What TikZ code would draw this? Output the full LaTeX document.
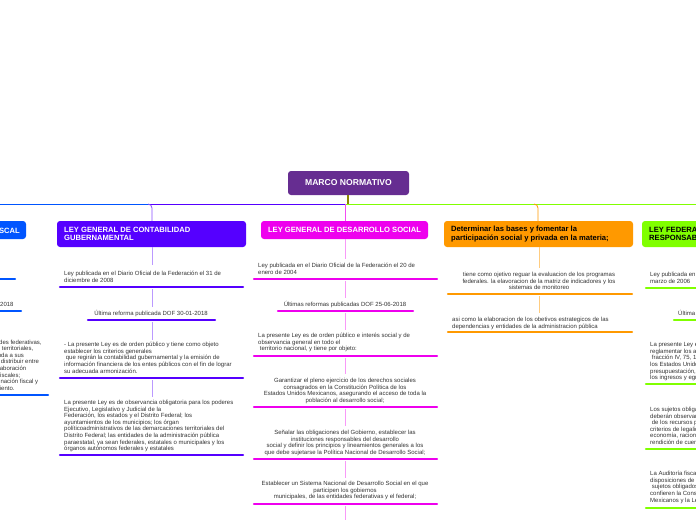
\documentclass[tikz,border=0pt]{standalone}
\usepackage{fontspec}
\setmainfont{Liberation Sans}
\begin{document}
\begin{tikzpicture}[x=1pt,y=-1pt,
  body/.style={font=\fontsize{6.0}{6.6}\selectfont,inner sep=0pt,anchor=north west,align=left,text=black!80},
  bodyc/.style={font=\fontsize{6.0}{6.6}\selectfont,inner sep=0pt,anchor=north,align=center,text=black!80},
  ttl/.style={font=\fontsize{7.6}{8.6}\selectfont\bfseries,align=left,anchor=west,inner sep=0pt},
  box/.style={rounded corners=3pt},
  ul/.style={line width=2.2pt,line cap=round},
  cn/.style={line width=0.8pt}]
\useasboundingbox (0,0) rectangle (696,520);
\clip (0,0) rectangle (696,520);
\definecolor{cpur}{HTML}{5500FF}\definecolor{cmag}{HTML}{EE00EE}
\definecolor{cora}{HTML}{FF9900}\definecolor{cgre}{HTML}{80FF00}
\definecolor{cblu}{HTML}{0055FF}\definecolor{croot}{HTML}{662D91}
% root
\fill[box,croot] (288,171) rectangle (409,195);
\node[font=\fontsize{8.6}{9}\selectfont\bfseries,text=white] (root) at (348.5,183) {MARCO NORMATIVO};
\draw[line width=1.5pt,olive] (348,195) -- (348,204);
\draw[line width=0.9pt,cblu] (0,204) -- (150,204);
\draw[line width=0.9pt,cpur] (150,204) -- (345,204);
\draw[line width=0.9pt,cgre] (345,204) -- (696,204);
\draw[cn,cpur!70] (148,204) to[out=0,in=90] (152,208) -- (152,221);
\draw[cn,cmag!70] (345,204) -- (345,221);
\draw[cn,cora] (534,204) to[out=0,in=90] (538,208) -- (538,221);
% headers
\fill[box,cblu] (-20,221) rectangle (26,239);
\node[ttl,text=white,anchor=east] (hb) at (20,230) {LEY DE COORDINACIÓN FISCAL};
\fill[box,cpur] (57,221) rectangle (246,247);
\node[ttl,text=white] (hp) at (64,234) {LEY GENERAL DE CONTABILIDAD\\GUBERNAMENTAL};
\fill[box,cmag] (261,221) rectangle (428,239);
\node[ttl,text=white,anchor=center] (hm) at (344.5,230) {LEY GENERAL DE DESARROLLO SOCIAL};
\fill[box,cora] (444,221) rectangle (633,247);
\node[ttl,text=black] (ho) at (451,234) {Determinar las bases y fomentar la\\participación social y privada en la materia;};
\fill[box,cgre] (642,221) rectangle (720,247);
\node[ttl,text=black] (hg) at (649,234) {LEY FEDERAL DE PRESUPUESTO Y\\RESPONSABILIDAD HACENDARIA};
% blue column
\node[body] (b1) at (-106,264) {Ley publicada en el Diario Oficial de la\\Federación el 27 de diciembre de 1978};
\draw[ul,cblu] (-5,279) -- (15,279);
\node[body] (b2) at (-100,301) {Última reforma publicada DOF 30-01-2018};
\draw[ul,cblu] (-5,311) -- (21,311);
\node[body] (b3) at (-122,333) {Esta Ley tiene por objeto coordinar el\\sistema fiscal de la Federación con las entidades federativas,\\así como con los municipios y demarcaciones territoriales,\\para establecer la participación que corresponda a sus\\haciendas públicas en los ingresos federales; distribuir entre\\ellos dichas participaciones; fijar reglas de colaboración\\administrativa entre las diversas autoridades fiscales;\\constituir los organismos en materia de coordinación fiscal y\\dar las bases de su organización y funcionamiento.};
\draw[ul,cblu] (-5,395) -- (48,395);
% purple column
\draw[cn,cpur!40] (152,247) -- (152,265) (152,289) -- (152,307) (152,322) -- (152,340) (152,380) -- (152,397);
\node[body] (p1) at (64,271) {Ley publicada en el Diario Oficial de la Federación el 31 de\\diciembre de 2008};
\draw[ul,cpur] (60,287) -- (243,287);
\node[bodyc] (p2) at (151,310) {Última reforma publicada DOF 30-01-2018};
\draw[ul,cpur] (88,320) -- (215,320);
\node[body] (p3) at (64,342) {- La presente Ley es de orden público y tiene como objeto\\establecer los criterios generales\\\ que regirán la contabilidad gubernamental y la emisión de\\información financiera de los entes públicos con el fin de lograr\\su adecuada armonización.};
\draw[ul,cpur] (60,378) -- (243,378);
\node[body] (p4) at (64,400) {La presente Ley es de observancia obligatoria para los poderes\\Ejecutivo, Legislativo y Judicial de la\\Federación, los estados y el Distrito Federal; los\\ayuntamientos de los municipios; los órgan\\políticoadministrativos de las demarcaciones territoriales del\\Distrito Federal; las entidades de la administración pública\\paraestatal, ya sean federales, estatales o municipales y los\\órganos autónomos federales y estatales};
\draw[ul,cpur] (60,455) -- (243,455);
% magenta column
\draw[cn,cmag!40] (345,239) -- (345,259) (345,281) -- (345,298) (345,313) -- (345,330) (345,358) -- (345,374) (345,409) -- (345,426) (345,461) -- (345,478) (345,506) -- (345,520);
\node[body] (m1) at (258,263) {Ley publicada en el Diario Oficial de la Federación el 20 de\\enero de 2004};
\draw[ul,cmag] (254,279) -- (437,279);
\node[bodyc] (m2) at (345,301) {Últimas reformas publicadas DOF 25-06-2018};
\draw[ul,cmag] (278,311) -- (413,311);
\node[body] (m3) at (258,333) {La presente Ley es de orden público e interés social y de\\observancia general en todo el\\\ territorio nacional, y tiene por objeto:};
\draw[ul,cmag] (254,356) -- (437,356);
\node[bodyc] (m4) at (345,378) {Garantizar el pleno ejercicio de los derechos sociales\\consagrados en la Constitución Política de los\\Estados Unidos Mexicanos, asegurando el acceso de toda la\\población al desarrollo social;};
\draw[ul,cmag] (254,407) -- (437,407);
\node[bodyc] (m5) at (345,430) {Señalar las obligaciones del Gobierno, establecer las\\instituciones responsables del desarrollo\\social y definir los principios y lineamientos generales a los\\que debe sujetarse la Política Nacional de Desarrollo Social;};
\draw[ul,cmag] (254,459) -- (437,459);
\node[bodyc] (m6) at (345,481) {Establecer un Sistema Nacional de Desarrollo Social en el que\\participen los gobiernos\\municipales, de las entidades federativas y el federal;};
\draw[ul,cmag] (254,504) -- (437,504);
% orange column
\draw[cn,cora!50] (539,247) -- (539,268) (539,296) -- (539,313);
\node[bodyc] (o1) at (539,272) {tiene como ojetivo reguar la evaluacion de los programas\\federales. la elavoracion de la matriz de indicadores y los\\sistemas de monitoreo};
\draw[ul,cora] (448,294) -- (632,294);
\node[body] (o2) at (452,317) {asi como la elaboracion de los obetivos estrategicos  de  las\\dependencias y entidades de la administracion pública};
\draw[ul,cora] (448,332) -- (632,332);
% green column
\node[body] (g1) at (650,272) {Ley publicada en el Diario Oficial de la Federación el 30 de\\marzo de 2006};
\draw[ul,cgre] (646,288) -- (700,288);
\node[body] (g2) at (678,310) {Última reforma publicada DOF 30-12-2015};
\draw[ul,cgre] (674,320) -- (700,320);
\node[body] (g3) at (650,342) {La presente Ley es de orden público, y tiene por objeto\\reglamentar los artículos 74 fracción IV, 75, 126, 127 y 134\\\ fracción IV, 75, 126, 127 y 134 de la Constitución Política de\\los Estados Unidos Mexicanos en materia de programación,\\presupuestación, aprobación, ejercicio, control y evaluación de\\los ingresos y egresos públicos federales.};
\draw[ul,cgre] (646,384) -- (700,384);
\node[body] (g4) at (650,407) {Los sujetos obligados a cumplir las disposiciones de esta Ley\\deberán observar que la administración\\\ de los recursos públicos federales se realice con base en\\criterios de legalidad, honestidad, eficiencia, eficacia,\\economía, racionalidad, austeridad, transparencia, control,\\rendición de cuentas y equidad de género.};
\draw[ul,cgre] (646,449) -- (700,449);
\node[body] (g5) at (650,471) {La Auditoría fiscalizará el cumplimiento de las\\disposiciones de esta Ley por parte de los\\\ sujetos obligados, conforme a las atribuciones que le\\confieren la Constitución Política de los Estados Unidos\\Mexicanos y la Ley de Fiscalización.};
\draw[ul,cgre] (646,508) -- (700,508);
\end{tikzpicture}
\end{document}
